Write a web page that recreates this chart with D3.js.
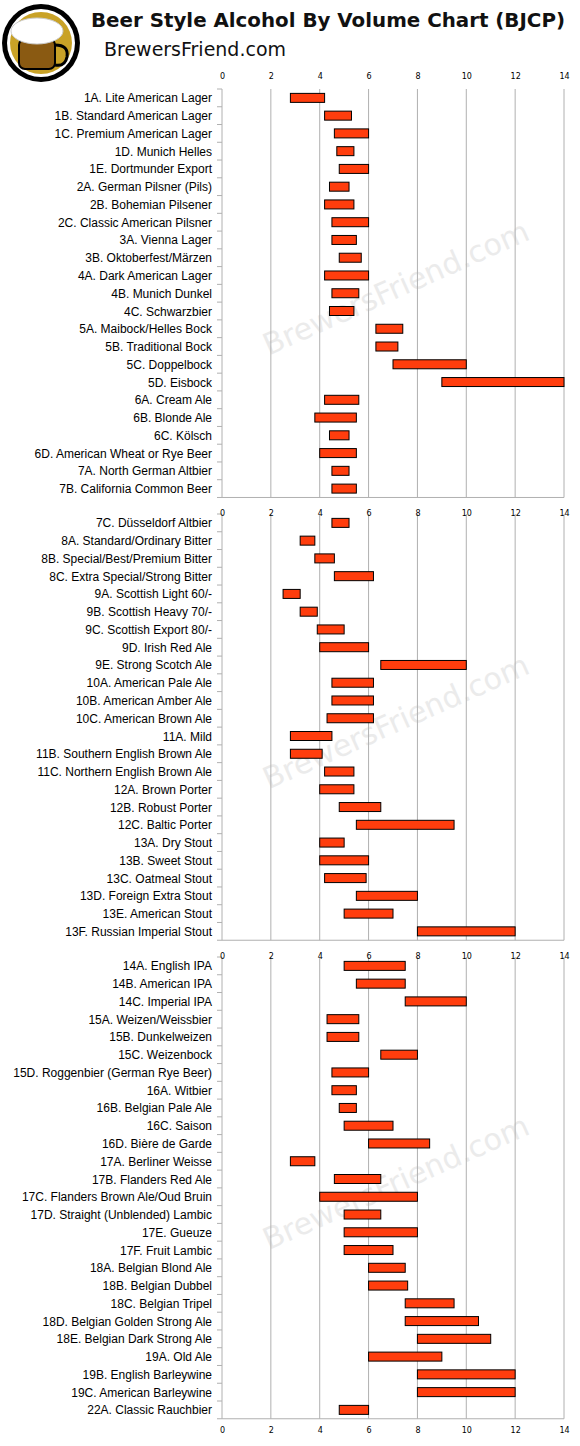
<!DOCTYPE html>
<html><head><meta charset="utf-8">
<script src="https://cdn.jsdelivr.net/npm/d3@7"></script>
<style>body{margin:0;background:#fff}</style>
</head><body>
<script>
// panel 1
var styles1 = ["1A. Lite American Lager","1B. Standard American Lager","1C. Premium American Lager","1D. Munich Helles","1E. Dortmunder Export","2A. German Pilsner (Pils)","2B. Bohemian Pilsener","2C. Classic American Pilsner","3A. Vienna Lager","3B. Oktoberfest/Märzen","4A. Dark American Lager","4B. Munich Dunkel","4C. Schwarzbier","5A. Maibock/Helles Bock","5B. Traditional Bock","5C. Doppelbock","5D. Eisbock","6A. Cream Ale","6B. Blonde Ale","6C. Kölsch","6D. American Wheat or Rye Beer","7A. North German Altbier","7B. California Common Beer"];
var low1  = [2.8,4.2,4.6,4.7,4.8,4.4,4.2,4.5,4.5,4.8,4.2,4.5,4.4,6.3,6.3,7,9,4.2,3.8,4.4,4,4.5,4.5];
var high1 = [4.2,5.3,6,5.4,6,5.2,5.4,6,5.5,5.7,6,5.6,5.4,7.4,7.2,10,14,5.6,5.5,5.2,5.5,5.2,5.5];
// panel 2
var styles2 = ["7C. Düsseldorf Altbier","8A. Standard/Ordinary Bitter","8B. Special/Best/Premium Bitter","8C. Extra Special/Strong Bitter","9A. Scottish Light 60/-","9B. Scottish Heavy 70/-","9C. Scottish Export 80/-","9D. Irish Red Ale","9E. Strong Scotch Ale","10A. American Pale Ale","10B. American Amber Ale","10C. American Brown Ale","11A. Mild","11B. Southern English Brown Ale","11C. Northern English Brown Ale","12A. Brown Porter","12B. Robust Porter","12C. Baltic Porter","13A. Dry Stout","13B. Sweet Stout","13C. Oatmeal Stout","13D. Foreign Extra Stout","13E. American Stout","13F. Russian Imperial Stout"];
var low2  = [4.5,3.2,3.8,4.6,2.5,3.2,3.9,4,6.5,4.5,4.5,4.3,2.8,2.8,4.2,4,4.8,5.5,4,4,4.2,5.5,5,8];
var high2 = [5.2,3.8,4.6,6.2,3.2,3.9,5,6,10,6.2,6.2,6.2,4.5,4.1,5.4,5.4,6.5,9.5,5,6,5.9,8,7,12];
// panel 3
var styles3 = ["14A. English IPA","14B. American IPA","14C. Imperial IPA","15A. Weizen/Weissbier","15B. Dunkelweizen","15C. Weizenbock","15D. Roggenbier (German Rye Beer)","16A. Witbier","16B. Belgian Pale Ale","16C. Saison","16D. Bière de Garde","17A. Berliner Weisse","17B. Flanders Red Ale","17C. Flanders Brown Ale/Oud Bruin","17D. Straight (Unblended) Lambic","17E. Gueuze","17F. Fruit Lambic","18A. Belgian Blond Ale","18B. Belgian Dubbel","18C. Belgian Tripel","18D. Belgian Golden Strong Ale","18E. Belgian Dark Strong Ale","19A. Old Ale","19B. English Barleywine","19C. American Barleywine","22A. Classic Rauchbier"];
var low3  = [5,5.5,7.5,4.3,4.3,6.5,4.5,4.5,4.8,5,6,2.8,4.6,4,5,5,5,6,6,7.5,7.5,8,6,8,8,4.8];
var high3 = [7.5,7.5,10,5.6,5.6,8,6,5.5,5.5,7,8.5,3.8,6.5,8,6.5,8,7,7.5,7.6,9.5,10.5,11,9,12,12,6];
var ticks = [0,2,4,6,8,10,12,14];

var svg = d3.select("body").append("svg").attr("width",580).attr("height",1446);
var x = d3.scaleLinear().domain([0,14]).range([222,564]);

// header / logo
var logo = svg.append("g").attr("transform","translate(41,43)");
logo.append("circle").attr("r",39).attr("fill","#000");
logo.append("circle").attr("r",34).attr("fill","#fff");
logo.append("circle").attr("r",31).attr("fill","#c9a227");
logo.append("rect").attr("x",-22).attr("y",-4).attr("width",36).attr("height",30).attr("rx",6).attr("fill","#8a5a12").attr("stroke","#000").attr("stroke-width",2);
logo.append("path").attr("d","M14,2 q14,0 12,12 q-2,10 -12,8").attr("fill","none").attr("stroke","#000").attr("stroke-width",3);
logo.append("ellipse").attr("cx",-4).attr("cy",-12).attr("rx",26).attr("ry",13).attr("fill","#fff").attr("stroke","#ccc");
svg.append("text").attr("x",91).attr("y",27).attr("font-family","DejaVu Sans").attr("font-size",20).attr("font-weight","bold").attr("fill","#111")
    .attr("textLength",474).attr("lengthAdjust","spacingAndGlyphs").text("Beer Style Alcohol By Volume Chart (BJCP)");
svg.append("text").attr("x",104).attr("y",56).attr("font-family","DejaVu Sans").attr("font-size",19).attr("fill","#111")
    .attr("textLength",182).attr("lengthAdjust","spacingAndGlyphs").text("BrewersFriend.com");

var panels = [
  {names:styles1, lo:low1, hi:high1, top:89, labTop:76, labBottom:false},
  {names:styles2, lo:low2, hi:high2, top:514, labTop:513, labBottom:false},
  {names:styles3, lo:low3, hi:high3, top:957, labTop:956, labBottom:true}
];

panels.forEach(function(p) {
    var n = p.names.length;
    var bottom = p.top + n*17.76;
    var y = d3.scaleBand().domain(p.names).range([p.top,bottom]);
    var g = svg.append("g");
    // watermark
    g.append("text").attr("transform","translate(400,"+((p.top+bottom)/2+4)+") rotate(-24)")
        .attr("text-anchor","middle").attr("font-family","DejaVu Sans").attr("font-size",30)
        .attr("fill","#ebebeb").text("BrewersFriend.com");
    g.selectAll(".grid").data(ticks).enter().append("line")
        .attr("x1",d=>x(d)).attr("x2",d=>x(d)).attr("y1",p.top).attr("y2",bottom)
        .attr("stroke","#b0b0b0");
    g.append("line").attr("x1",x(0)-5).attr("x2",x(14)).attr("y1",bottom).attr("y2",bottom).attr("stroke","#b0b0b0");
    g.selectAll(".tk").data(p.names).enter().append("line")
        .attr("x1",x(0)-5).attr("x2",x(0)).attr("y1",d=>y(d)).attr("y2",d=>y(d)).attr("stroke","#b0b0b0");
    var axTop = d3.axisTop(x).tickValues(ticks).tickSize(0).tickPadding(0);
    var at = g.append("g").attr("transform","translate(0,"+(p.labTop+3)+")").call(axTop);
    at.select(".domain").remove();
    at.selectAll("text").attr("font-family","DejaVu Sans").attr("font-size",8).attr("fill","#000");
    if (p.labBottom) {
        var ab = g.append("g").attr("transform","translate(0,"+(bottom+9)+")").call(d3.axisBottom(x).tickValues(ticks).tickSize(0).tickPadding(0));
        ab.select(".domain").remove();
        ab.selectAll("text").attr("font-family","DejaVu Sans").attr("font-size",8).attr("fill","#000");
    }
    g.selectAll(".bar").data(p.names).enter().append("rect")
        .attr("x",(d,i)=>x(p.lo[i])).attr("width",(d,i)=>x(p.hi[i])-x(p.lo[i]))
        .attr("y",d=>y(d)+y.bandwidth()/2-4.5).attr("height",9)
        .attr("fill","#ff3d0d").attr("stroke","#000").attr("stroke-width",1);
    g.selectAll(".lab").data(p.names).enter().append("text")
        .attr("x",212).attr("y",d=>y(d)+y.bandwidth()/2+4.5).attr("text-anchor","end")
        .attr("font-family","'Liberation Sans'").attr("font-size",12).attr("fill","#000").text(d=>d);
});
</script>
</body></html>
